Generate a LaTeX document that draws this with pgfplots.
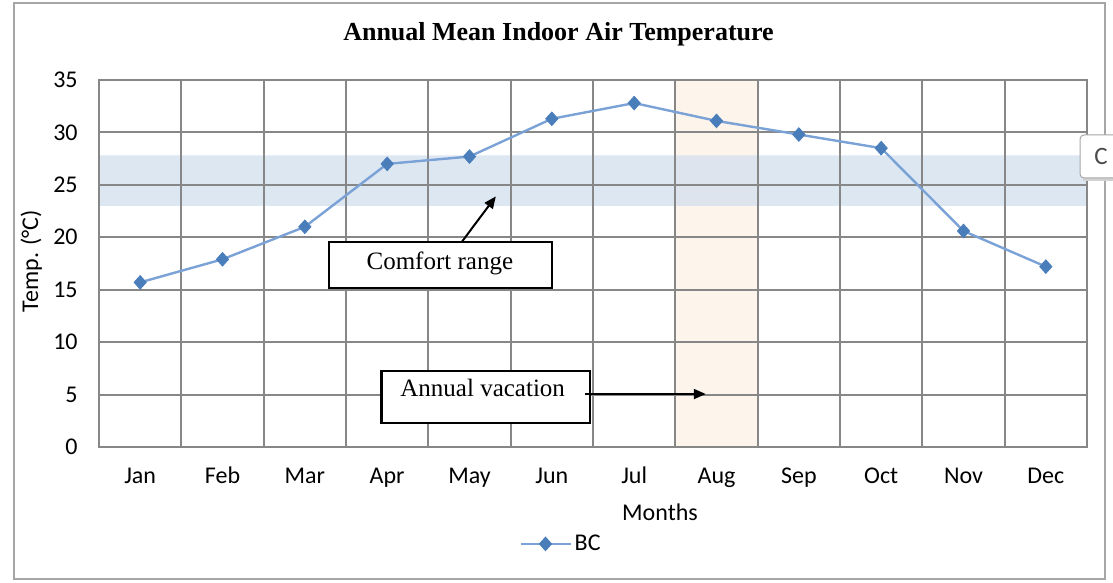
\documentclass[border=0pt]{standalone}
\usepackage{pgfplots}
\pgfplotsset{compat=1.18}
\usepackage{fontspec}
\setmainfont{Liberation Serif}
\newfontfamily\calfont{Carlito}
\usetikzlibrary{arrows.meta}

\definecolor{gridgray}{HTML}{878787}
\definecolor{framegray}{HTML}{A6A6A6}
\definecolor{bcline}{HTML}{7BA2D6}
\definecolor{bcmark}{HTML}{4A7EBB}
\definecolor{comfortfill}{HTML}{D5E1EF}
\definecolor{augfill}{HTML}{FDF4EC}
\definecolor{augedge}{HTML}{F2DDCC}

\newcommand{\lblfont}{\calfont\fontsize{12}{14}\selectfont}

\begin{document}
\begin{tikzpicture}
% chart frame
\draw[framegray, line width=0.9pt] (6.8pt,2pt) rectangle (552.5pt,290pt);

\begin{axis}[
  set layers,
  at={(49.5pt,68pt)}, anchor=south west,
  scale only axis, width=494pt, height=183.5pt,
  xmin=0.5, xmax=12.5, ymin=0, ymax=35,
  xtick={1,...,12},
  xticklabels={Jan,Feb,Mar,Apr,May,Jun,Jul,Aug,Sep,Oct,Nov,Dec},
  minor xtick={1.5,2.5,...,11.5},
  ytick={0,5,...,35},
  xmajorgrids=false, xminorgrids=true, ymajorgrids=true,
  major grid style={gridgray, line width=1pt},
  minor grid style={gridgray, line width=1pt},
  axis line style={gridgray, line width=1pt},
  major tick length=0pt, minor tick length=0pt,
  tick label style={font=\lblfont},
  /pgf/number format/assume math mode=true,
  xticklabel style={anchor=base, inner sep=0pt, yshift=-18.5pt},
  yticklabel style={anchor=east, inner sep=0pt, xshift=-10.5pt},
  legend style={at={(axis description cs:0.425,-0.264)}, anchor=west,
    draw=none, fill=none, font=\lblfont, inner sep=0pt,
    nodes={inner sep=1.5pt}},
  legend image code/.code={%
    \draw[#1, mark repeat=2, mark phase=2]
      plot coordinates {(0pt,0pt) (12.5pt,0pt) (25pt,0pt)};},
]
% vacation month
\addplot[forget plot, fill=augfill, draw=augedge, line width=0.5pt,
  on layer=axis background]
  coordinates {(7.5,0) (8.5,0) (8.5,35) (7.5,35) (7.5,0)};
% comfort range
\addplot[forget plot, fill=comfortfill, fill opacity=0.8, draw=none,
  on layer=axis background]
  coordinates {(0.5,23) (12.5,23) (12.5,27.8) (0.5,27.8) (0.5,23)};

% monthly mean indoor air temperature
\addplot[bcline, line width=1.2pt,
  mark=diamond*, mark size=3.4pt,
  mark options={fill=bcmark, draw=bcmark, line width=0.4pt, xscale=1.2}]
  coordinates {
    (1,15.7) (2,17.9) (3,21.0) (4,27.0) (5,27.7) (6,31.3)
    (7,32.8) (8,31.1) (9,29.8) (10,28.5) (11,20.6) (12,17.2)};
\addlegendentry{BC}

% callouts
\draw[black, line width=1.1pt, fill=white]
  (axis cs:3.29,15.16) rectangle (axis cs:6.00,19.55);
\node[font=\fontsize{12.5}{15}\selectfont] at (axis cs:4.64,17.5) {Comfort range};
\draw[black, line width=1pt, -{Triangle[length=6pt,width=5pt]}]
  (axis cs:4.91,19.6) -- (axis cs:5.32,23.9);

\draw[black, line width=1.1pt, fill=white]
  (axis cs:3.93,2.29) rectangle (axis cs:6.46,7.25);
\node[font=\fontsize{12.5}{15}\selectfont] at (axis cs:5.16,5.6) {Annual vacation};
\draw[black, line width=1pt, -{Triangle[length=6pt,width=5pt]}]
  (axis cs:6.40,5.05) -- (axis cs:7.87,5.05);
\end{axis}

% title and axis titles
\node[anchor=base, font=\bfseries\fontsize{13}{15}\selectfont]
  at (279.25pt,271pt) {Annual Mean Indoor Air Temperature};
\node[anchor=base, font=\lblfont] at (330pt,31pt) {Months};
\node[anchor=base, rotate=90, font=\lblfont] at (19pt,161pt) {Temp. (°C)};

% partly hidden label tab at the right edge
\begin{scope}
\clip (0,0) rectangle (556.5pt,291.5pt);
\fill[black!18] (541.5pt,201pt) rectangle (580pt,222.5pt);
\draw[rounded corners=2pt, draw=black!35, fill=white, line width=0.5pt]
  (540pt,202.5pt) rectangle (580pt,224pt);
\node[font=\calfont\fontsize{12.5}{15}\selectfont, text=black!70]
  at (550.5pt,213.5pt) {C};
\end{scope}

% canvas
\pgfresetboundingbox
\path[use as bounding box] (0,0) rectangle (556.5pt,291.5pt);
\end{tikzpicture}
\end{document}
